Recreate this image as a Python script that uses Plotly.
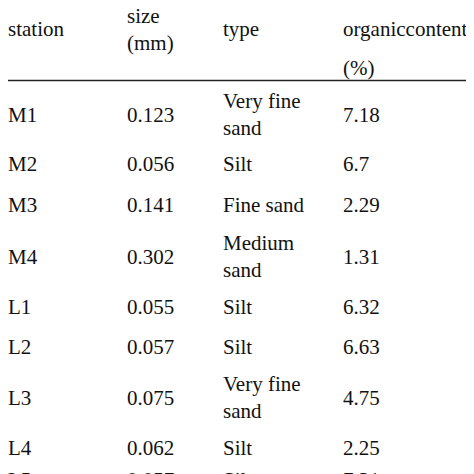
import plotly.graph_objects as go

stations = ["M1", "M2", "M3", "M4", "L1", "L2", "L3", "L4", "L5"]
sizes = ["0.123", "0.056", "0.141", "0.302", "0.055", "0.057", "0.075", "0.062", "0.057"]
types = ["Very fine<br>sand", "Silt", "Fine sand", "Medium<br>sand", "Silt", "Silt", "Very fine<br>sand", "Silt", "Silt"]
organic = ["7.18", "6.7", "2.29", "1.31", "6.32", "6.63", "4.75", "2.25", "7.31"]

row_y = [0.775, 0.67, 0.585, 0.475, 0.37, 0.285, 0.178, 0.072, 0.005]
col_x = [-0.005, 0.247, 0.45, 0.703]
FONT = dict(family="Liberation Serif", size=21, color="#111")

fig = go.Figure()
ann = []
def add(x, y, t):
    ann.append(dict(x=x, y=y, text=t, xref="paper", yref="paper", showarrow=False,
                    xanchor="left", yanchor="middle", align="left", font=FONT))

add(col_x[0], 0.955, "station")
add(col_x[1], 0.955, "size<br>(mm)")
add(col_x[2], 0.955, "type")
add(col_x[3], 0.955, "organiccontent")
add(col_x[3], 0.873, "(%)")
for i in range(len(stations)):
    y = row_y[i]
    add(col_x[0], y, stations[i])
    add(col_x[1], y, sizes[i])
    add(col_x[2], y, types[i])
    add(col_x[3], y, organic[i])

fig.add_shape(type="line", x0=0, x1=1, y0=0.847, y1=0.847, xref="paper", yref="paper",
              line=dict(color="#222", width=1.5))
fig.update_layout(width=474, height=474, margin=dict(l=0, r=0, t=0, b=0, pad=0),
                  plot_bgcolor="white", paper_bgcolor="white", annotations=ann,
                  xaxis=dict(visible=False, fixedrange=True),
                  yaxis=dict(visible=False, fixedrange=True),
                  showlegend=False)
fig.write_html("out.html")
